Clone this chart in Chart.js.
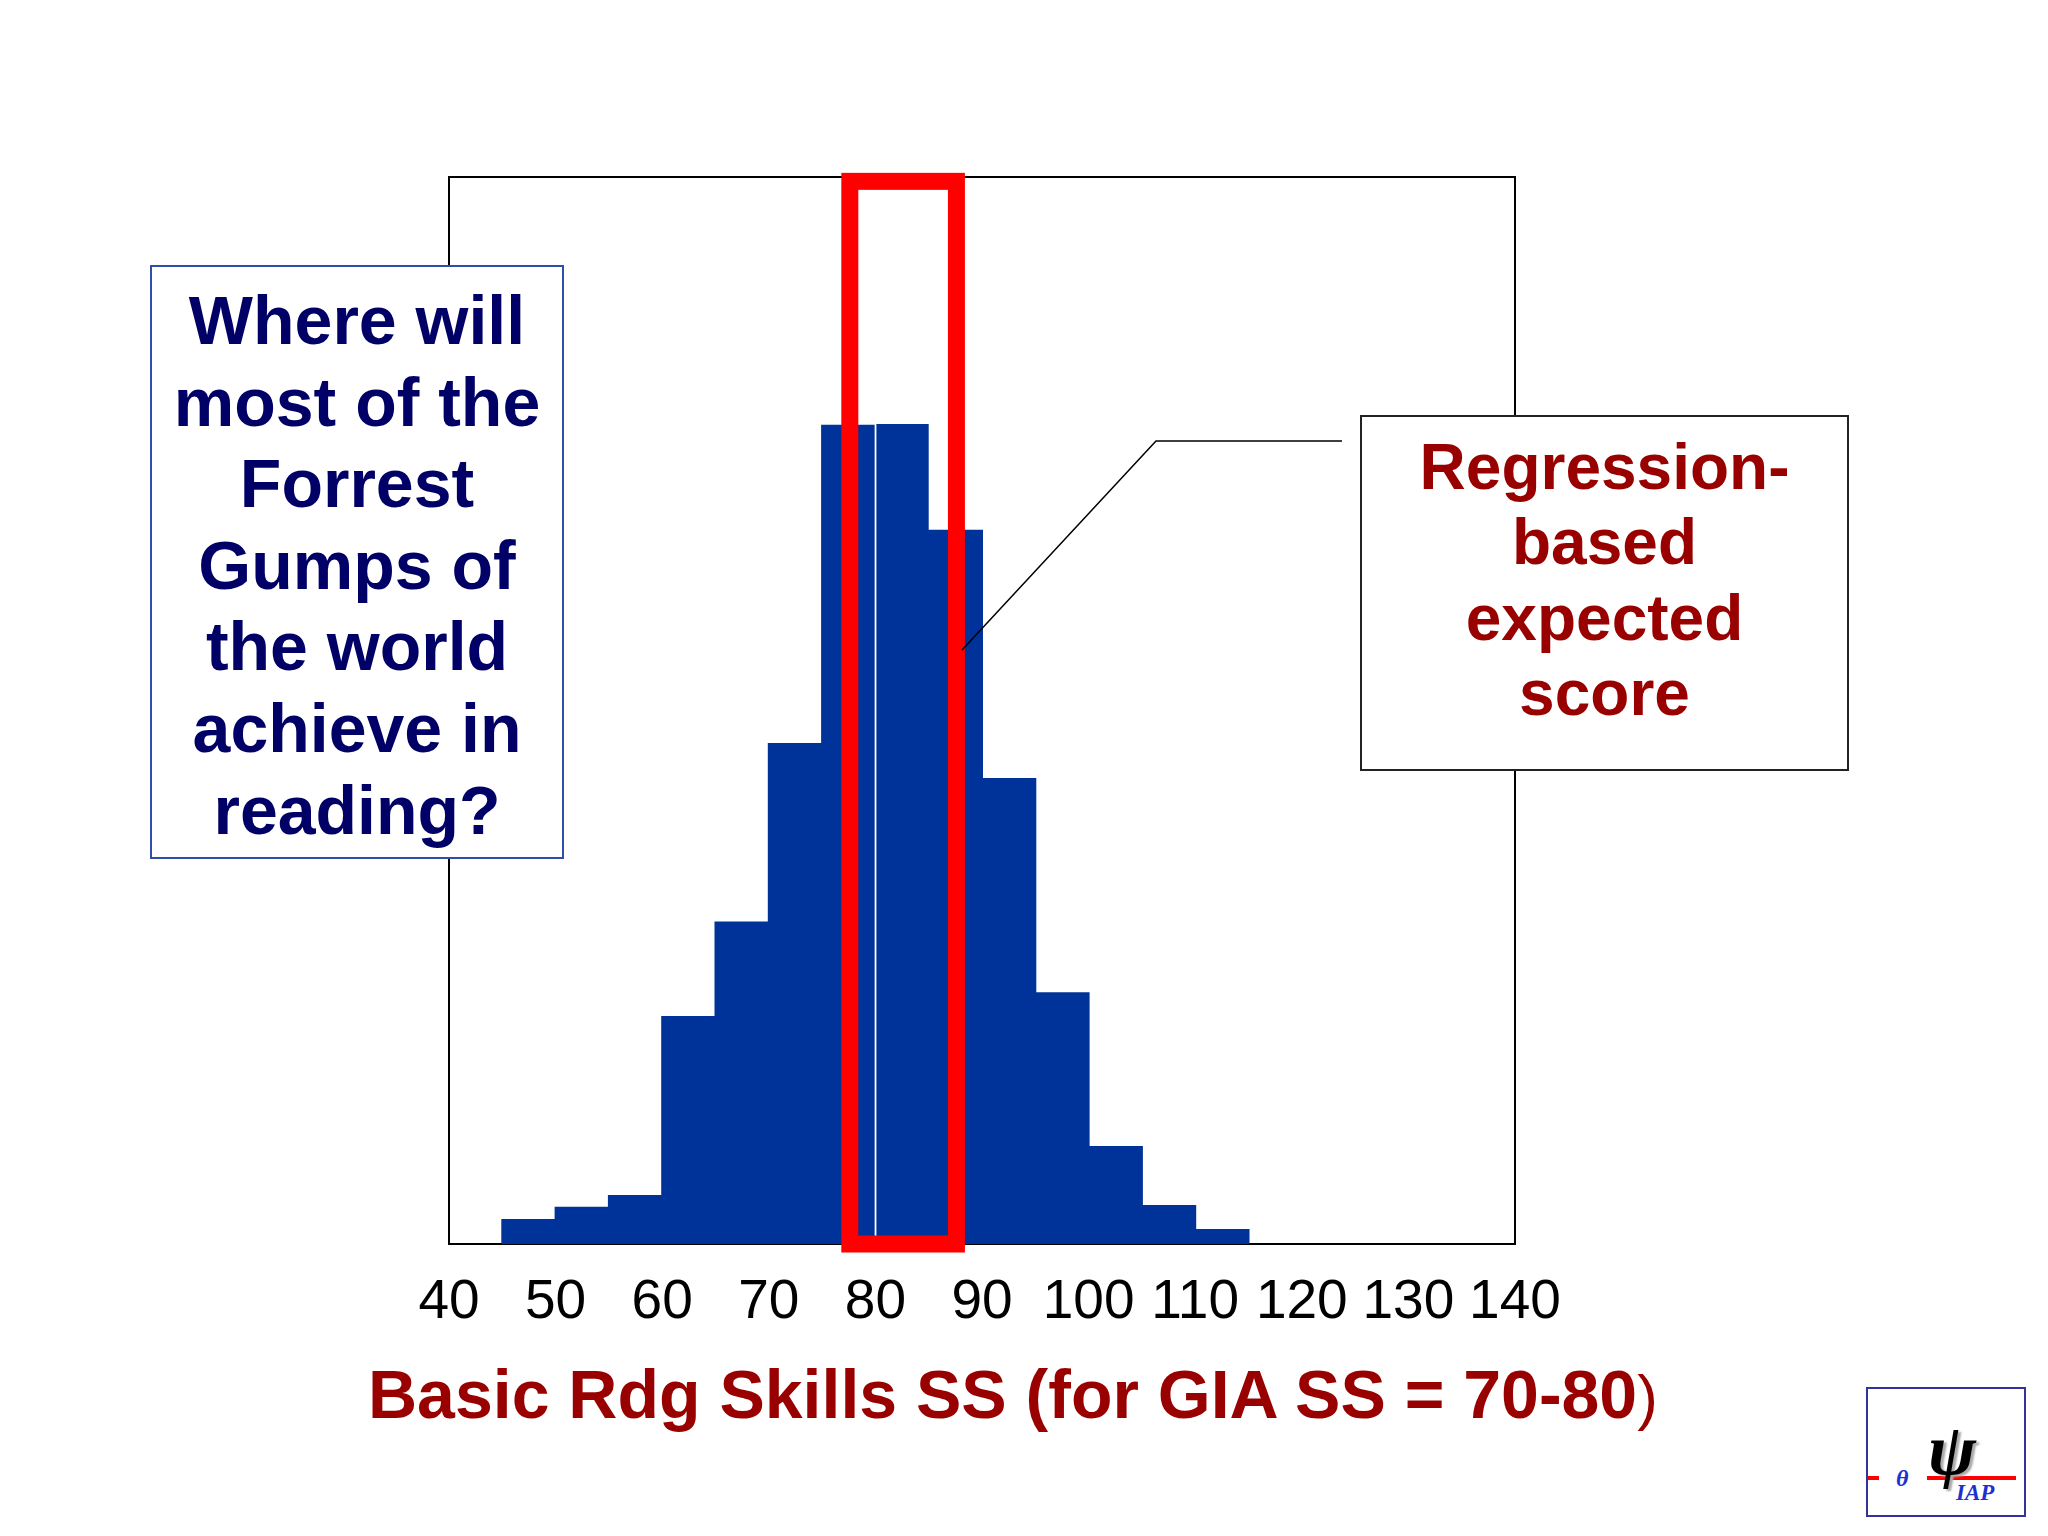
<!DOCTYPE html>
<html>
<head>
<meta charset="utf-8">
<script src="https://cdn.jsdelivr.net/npm/chart.js@4.4.0/dist/chart.umd.min.js"></script>
<style>
  html, body { margin: 0; padding: 0; background: #fff; }
  #wrap { position: relative; width: 2048px; height: 1536px; overflow: hidden; font-family: "Liberation Sans", Arial, sans-serif; }
  #chart { position: absolute; left: 0; top: 0; }
  .box { position: absolute; background: #fff; text-align: center; font-weight: bold; box-sizing: border-box; }
  #question { left: 150px; top: 265px; width: 414px; height: 594px; border: 2px solid #2d4fa8; color: #000066; font-size: 68px; line-height: 81.6px; padding-top: 13px; }
  #expected { left: 1360px; top: 415px; width: 489px; height: 356px; border: 2px solid #222; color: #990000; font-size: 64px; line-height: 75.4px; padding-top: 13px; }
  #xtitle { position: absolute; left: 368px; top: 1360px; font-size: 68px; line-height: 68px; font-weight: bold; color: #990000; white-space: nowrap; }
  #xtitle span { font-size: 62px; font-weight: normal; }
  #logo { position: absolute; left: 1866px; top: 1387px; width: 160px; height: 130px; border: 2px solid #333399; box-sizing: border-box; background: #fff; }
  #logo div { position: absolute; }
  .rule { background: #ff0000; height: 4px; }
  .serif { font-family: "Liberation Serif", "Times New Roman", serif; font-style: italic; font-weight: bold; white-space: nowrap; }
</style>
</head>
<body>
<div id="wrap">
  <canvas id="chart" width="2048" height="1536"></canvas>
  <div class="box" id="question">Where will<br>most of the<br>Forrest<br>Gumps of<br>the world<br>achieve in<br>reading?</div>
  <div class="box" id="expected">Regression-<br>based<br>expected<br>score</div>
  <div id="xtitle">Basic Rdg Skills SS (for GIA SS = 70-80<span>)</span></div>
  <div id="logo">
    <div class="rule" style="left:0px; top:87px; width:11px;"></div>
    <div class="serif" style="left:28px; top:77px; font-size:24px; line-height:24px; color:#1f2fd0;">θ</div>
    <div class="rule" style="left:59px; top:87px; width:89px;"></div>
    <div class="serif" style="left:60px; top:25px; font-size:72px; line-height:72px; color:#000; text-shadow: 3px 2px 2px #aaa;">ψ</div>
    <div class="serif" style="left:88px; top:92px; font-size:23px; line-height:23px; color:#1f2fd0;">IAP</div>
  </div>
</div>
<script>
document.addEventListener("DOMContentLoaded", function () {
  // histogram bins (centre of each 5-point bin) and share of cases
  const scoreBins = [47.5, 52.5, 57.5, 62.5, 67.5, 72.5, 77.5, 82.5, 87.5, 92.5, 97.5, 102.5, 107.5, 112.5];
  const percentOfCases = [0.55, 0.83, 1.1, 5.21, 7.38, 11.48, 18.79, 18.83, 16.38, 10.68, 5.76, 2.23, 0.87, 0.32];
  const xTicks = [40, 50, 60, 70, 80, 90, 100, 110, 120, 130, 140];
  const expectedRange = [77.6, 87.6];

  const framePlugin = {
    id: "frame",
    beforeDatasetsDraw(chart) {
      const { ctx, chartArea } = chart;
      ctx.save();
      ctx.strokeStyle = "#000";
      ctx.lineWidth = 2;
      ctx.strokeRect(chartArea.left, chartArea.top, chartArea.right - chartArea.left, chartArea.bottom - chartArea.top);
      ctx.restore();
    },
    afterDatasetsDraw(chart) {
      const { ctx } = chart;
      const x = chart.scales.x;
      const y = chart.scales.y;
      const left = x.getPixelForValue(expectedRange[0]);
      const right = x.getPixelForValue(expectedRange[1]);
      const top = y.getPixelForValue(24.4);
      const bottom = y.getPixelForValue(0);
      ctx.save();
      ctx.strokeStyle = "#ff0000";
      ctx.lineWidth = 17;
      ctx.strokeRect(left, top, right - left, bottom - top);

      // leader line from the callout box
      ctx.strokeStyle = "#000";
      ctx.lineWidth = 1.5;
      ctx.beginPath();
      ctx.moveTo(1342, 441);
      ctx.lineTo(1156, 441);
      ctx.lineTo(962, 650);
      ctx.stroke();
      ctx.restore();
    },
  };

  new Chart(document.getElementById("chart").getContext("2d"), {
    type: "bar",
    data: {
      datasets: [
        {
          label: "Basic Rdg Skills SS",
          data: scoreBins.map((x, i) => ({ x: x, y: percentOfCases[i] })),
          backgroundColor: "#003399",
          borderColor: "#ffffff",
          // thin white seam between the two tallest bins, as in the slide
          borderWidth: (c) => (c.raw && c.raw.x === 82.5 ? { left: 2, top: 0, right: 0, bottom: 0 } : 0),
          borderSkipped: false,
          inflateAmount: 1,
          barPercentage: 1,
          categoryPercentage: 1,
        },
      ],
    },
    options: {
      responsive: false,
      animation: false,
      layout: { padding: { left: 449, right: 533, top: 177, bottom: 192 } },
      plugins: { legend: { display: false }, tooltip: { enabled: false } },
      scales: {
        x: {
          type: "linear",
          min: 40,
          max: 140,
          offset: false,
          grid: { display: false, offset: false },
          border: { display: false },
          afterBuildTicks: (s) => { s.ticks = xTicks.map((v) => ({ value: v })); },
          afterFit: (s) => { s.height = 100; },
          ticks: {
            autoSkip: false,
            maxRotation: 0,
            padding: 18,
            color: "#000",
            font: { family: "'Liberation Sans', Arial, sans-serif", size: 55 },
          },
        },
        y: { display: false, min: 0, max: 24.5 },
      },
    },
    plugins: [framePlugin],
  });
});
</script>
</body>
</html>
